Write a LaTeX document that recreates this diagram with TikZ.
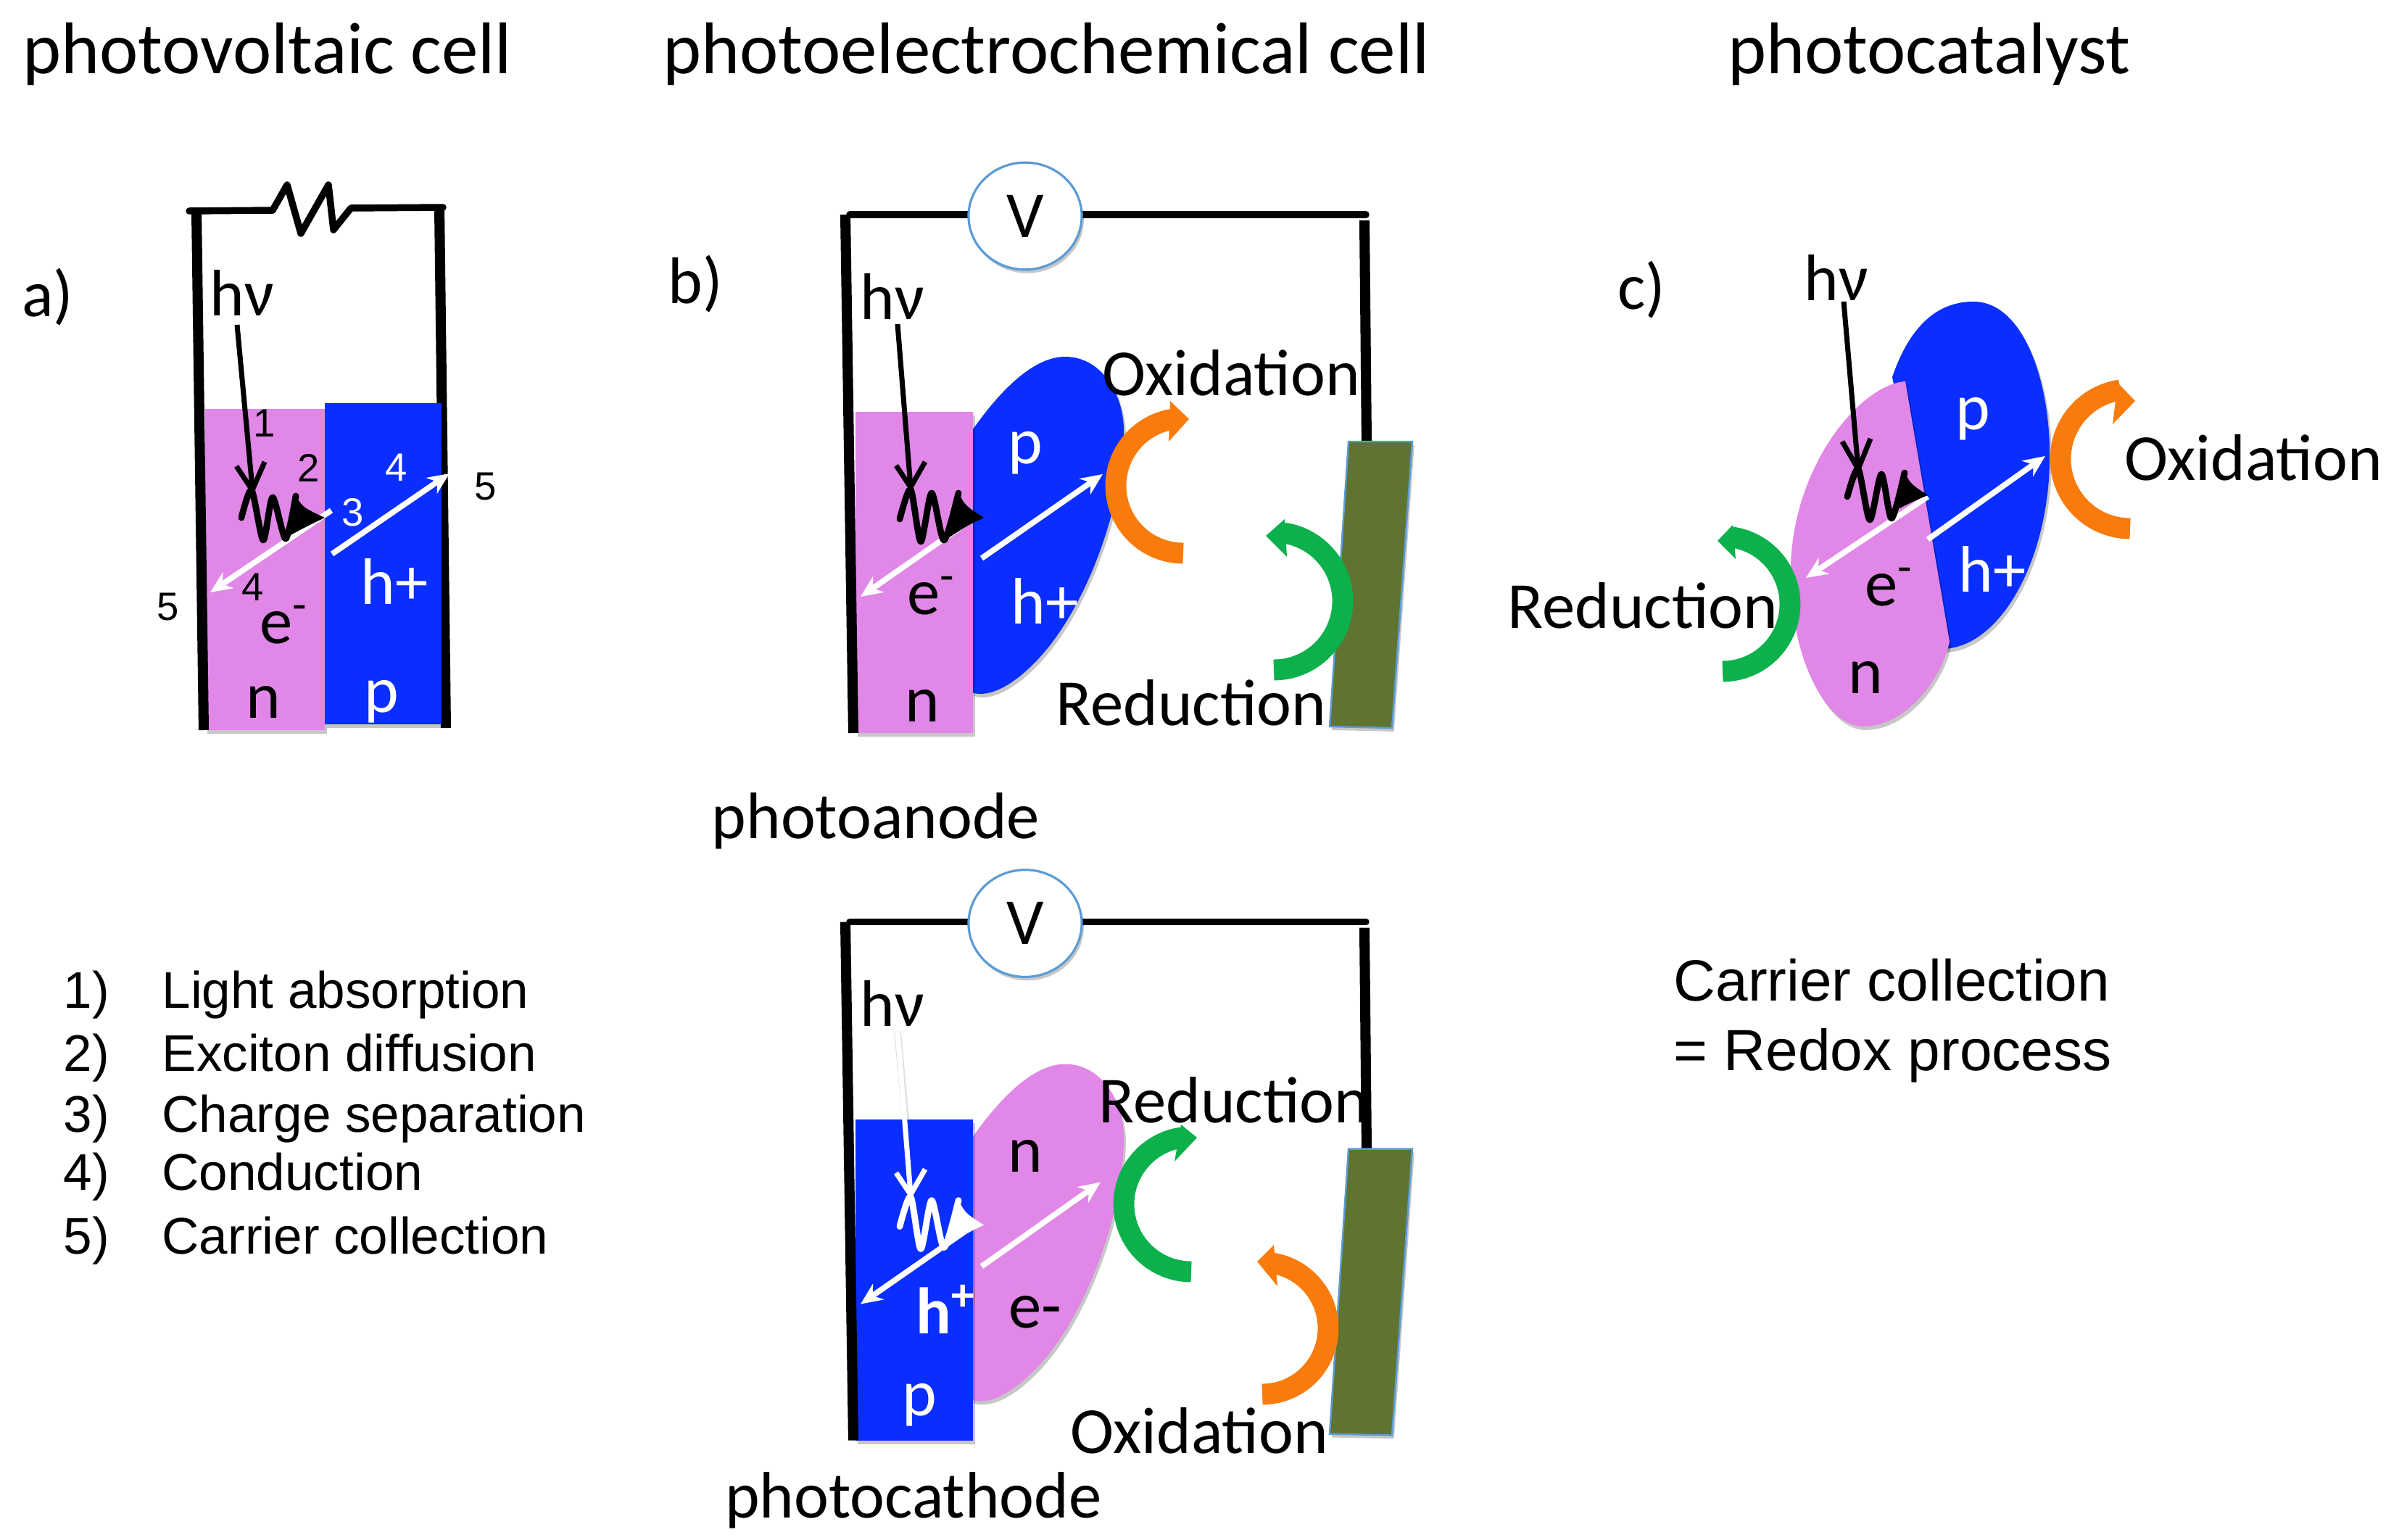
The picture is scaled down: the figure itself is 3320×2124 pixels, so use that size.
\documentclass[tikz,border=0pt]{standalone}
\usepackage{fontspec}
\setmainfont{Carlito}
\newfontfamily\arialf{Liberation Sans}
\usetikzlibrary{arrows.meta,shapes.geometric,shadows}
\definecolor{pinkc}{HTML}{E187E8}
\definecolor{bluec}{HTML}{0A2EFF}
\definecolor{orangec}{HTML}{F97B0B}
\definecolor{greenc}{HTML}{0DB14B}
\definecolor{olivec}{HTML}{5F7430}
\definecolor{edgec}{HTML}{5B9BD5}
\tikzset{
  soft/.style={drop shadow={shadow xshift=0.8pt,shadow yshift=-1.4pt,opacity=.22,fill=black}},
  lab/.style={inner sep=0pt,font=\fontsize{25.8}{30}\selectfont},
  wlab/.style={lab,text=white},
  num/.style={inner sep=0pt,font=\arialf\fontsize{15.5}{18}\selectfont},
  listf/.style={inner sep=0pt,anchor=base west,font=\arialf\fontsize{20.2}{24}\selectfont},
  bigf/.style={inner sep=0pt,anchor=base west,font=\arialf\fontsize{22.8}{27}\selectfont},
  title/.style={inner sep=0pt,anchor=base,font=\fontsize{28.7}{33}\selectfont},
  wirebar/.style={line width=4pt},
  wiretop/.style={line width=2.7pt,line join=round,line cap=round},
  beam/.style={line width=2pt},
  squig/.style={line width=2.5pt,line join=round,line cap=round},
  tipline/.style={line width=2.2pt,-{Stealth[length=8.5pt,width=7.5pt]}},
  curve/.style={line width=8.2pt},
  meter/.style={ellipse,soft,draw=edgec,line width=0.9pt,fill=white,inner sep=0pt,minimum width=44.4pt,minimum height=42pt,lab},
  plate/.style={soft,fill=olivec,draw=edgec,line width=0.7pt}
}
% excitation glyph of panel b, colour #1
\newcommand{\excite}[1]{%
  \draw[beam,#1] (1238,447) -- (1256,672);
  \draw[beam,#1,line join=miter] (1236,642) -- (1256,672) -- (1276,637);
  \draw[squig,#1] plot[smooth,tension=.45] coordinates {(1241,716) (1256,675) (1270,747) (1285,680) (1302,745) (1322,680)};
  \fill[#1] (1322,680) .. controls (1332,698) .. (1357,714) .. controls (1334,725) .. (1308,742) -- cycle;
}
% blob of panel b, colour #1
\newcommand{\blob}[1]{%
  \fill[#1,soft] (1340,595) .. controls (1385,530) and (1430,492) .. (1469,492)
    .. controls (1520,492) and (1552,545) .. (1550,600)
    .. controls (1548,700) and (1500,830) .. (1440,900)
    .. controls (1410,935) and (1370,965) .. (1340,955) -- cycle;
}
% plate of panel b
\newcommand{\plateb}{\draw[plate] (1860,609) -- (1948,609) -- (1920,1004) -- (1834,1002) -- cycle;}
% orange or green redox arc
\newcommand{\redox}[7]{% colour, cx, cy, r, start, end, head
  \draw[curve,#1] plot[domain=#5:#6,samples=40] ({#2+#4*cos(\x)},{#3+#4*sin(\x)});
  \fill[#1] #7 -- cycle;
}
\begin{document}
\begin{tikzpicture}[x=0.01cm,y=-0.01cm]
\useasboundingbox (0,0) rectangle (3320,2124);
% titles
\node[title] (t1) at (369,101) {photovoltaic cell};
\node[title] (t2) at (1443,101) {photoelectrochemical cell};
\node[title] (t3) at (2661,101) {photocatalyst};
\node[lab] (la) at (66,410) {a)};
\node[lab] (lb) at (959,392) {b)};
\node[lab] (lc) at (2264,400) {c)};

% ---------- panel a
\fill[pinkc,soft] (283,564) rectangle (448,1007);
\draw[wirebar] (271,291) -- (281,1007);
\draw[wirebar] (606,286) -- (615,1004);
\fill[bluec,soft] (448,556) rectangle (609,999);
\draw[wiretop] (261,291) -- (376,290) -- (396,255) -- (415,322) -- (453,255) -- (460,317) -- (484,287) -- (611,286);
\draw[tipline,white] (457,704) -- (290,817);
\draw[tipline,white] (458,764) -- (620,653);
\draw[beam] (327,448) -- (348,673);
\draw[beam,line join=miter] (326,643) -- (348,676) -- (365,637);
\draw[squig] plot[smooth,tension=.45] coordinates {(333,714) (347,676) (363,745) (376,686) (394,743) (408,684)};
\fill (408,684) .. controls (418,700) .. (448,714) .. controls (425,725) .. (397,740) -- cycle;
\node[lab] (ahv) at (334,404) {hν};
\node[num] (a1) at (365,584) {1};
\node[num] (a2) at (426,645) {2};
\node[num,text=white] (a3) at (487,707) {3};
\node[num,text=white] (a4w) at (547,645) {4};
\node[num] (a4b) at (349,810) {4};
\node[num] (a5r) at (670,671) {5};
\node[num] (a5l) at (232,837) {5};
\node[lab] (ae) at (392,862) {e\textsuperscript{-}};
\node[wlab] (ah) at (544,802) {h+};
\node[lab] (an) at (363,968) {n};
\node[wlab] (ap) at (526,968) {p};

% ---------- list
\foreach \n/\tx/\yy in {1/Light absorption/1390,2/Exciton diffusion/1477,3/Charge separation/1561,4/Conduction/1641,5/Carrier collection/1729}{
  \node[listf] (ln\n) at (87,\yy) {\n)};
  \node[listf] (lt\n) at (223,\yy) {\tx};
}

% ---------- panel b top
\draw[wirebar] (1882,304) -- (1885,612);
\draw[wiretop] (1172,296) -- (1884,296);
\node[meter] (v1) at (1414,298) {V};
\blob{bluec}
\fill[pinkc,soft] (1180,568) rectangle (1342,1011);
\draw[wirebar] (1166,296) -- (1177,1011);
\plateb
\redox{orangec}{1632}{670}{93}{90}{263}{(1614,553) -- (1640,578) -- (1612,609)}
\redox{greenc}{1757}{829}{95}{90}{-82}{(1772,716) -- (1746,739) -- (1775,768)}
\draw[tipline,white] (1348,711) -- (1187,823);
\draw[tipline,white] (1354,770) -- (1521,654);
\excite{black}
\node[lab] (bhv) at (1231,409) {hν};
\node[wlab] (bp) at (1414,625) {p};
\node[wlab] (bh) at (1441,829) {h+};
\node[lab] (be) at (1285,822) {e\textsuperscript{-}};
\node[lab] (bn) at (1272,973) {n};
\node[lab] (box) at (1698,514) {Oxidation};
\node[lab] (bre) at (1643,969) {Reduction};
\node[lab] (bpa) at (1208,1132) {photoanode};

% ---------- panel b bottom
\begin{scope}[yshift=-9.75cm]
\draw[wirebar] (1882,304) -- (1885,612);
\draw[wiretop] (1172,296) -- (1884,296);
\node[meter] (v2) at (1414,298) {V};
\blob{pinkc}
\fill[bluec,soft] (1180,568) rectangle (1342,1011);
\draw[wirebar] (1166,296) -- (1177,1011);
\plateb
\draw[line width=2.8pt,black!12] (1238,447) -- (1249,568);
\draw[tipline,white] (1348,711) -- (1187,823);
\draw[tipline,white] (1354,771) -- (1518,655);
\excite{white}
\end{scope}
\redox{greenc}{1643}{1661}{93}{90}{262}{(1629,1551) -- (1651,1569) -- (1620,1602)}
\redox{orangec}{1741}{1832}{91}{90}{-82}{(1757,1717) -- (1734,1740) -- (1762,1774)}
\node[lab] (chv) at (1231,1384) {hν};
\node[lab] (cn) at (1414,1594) {n};
\node[lab] (ce) at (1428,1810) {e-};
\node[wlab,font=\bfseries\fontsize{25.8}{30}\selectfont] (ch) at (1305,1806) {h\textsuperscript{+}};
\node[wlab] (cp) at (1268,1938) {p};
\node[lab] (cre) at (1702,1517) {Reduction};
\node[lab] (cox) at (1654,1973) {Oxidation};
\node[lab] (cpc) at (1260,2069) {photocathode};

% ---------- panel c
\fill[bluec,soft] (2610,520) .. controls (2634,450) and (2672,416) .. (2722,416)
  .. controls (2792,416) and (2830,530) .. (2827,640)
  .. controls (2824,770) and (2762,890) .. (2682,895) -- cycle;
\fill[pinkc,soft] (2628,526) .. controls (2567,530) and (2474,640) .. (2470,780)
  .. controls (2466,900) and (2517,1002) .. (2570,1002)
  .. controls (2627,1002) and (2677,940) .. (2689,885) -- cycle;
\redox{orangec}{2938}{633}{96}{90}{262}{(2921,528) -- (2945,553) -- (2914,585)}
\redox{greenc}{2376}{833}{93}{90}{-84}{(2390,724) -- (2369,746) -- (2394,771)}
\draw[tipline,white] (2659,685) -- (2491,797);
\draw[tipline,white] (2659,744) -- (2821,629);
\draw[beam] (2543,416) -- (2563,647);
\draw[beam,line join=miter] (2541,609) -- (2563,647) -- (2580,605);
\draw[squig] plot[smooth,tension=.45] coordinates {(2548,685) (2563,647) (2579,717) (2595,654) (2609,715) (2627,652)};
\fill (2627,652) .. controls (2636,668) .. (2659,683) .. controls (2638,692) .. (2616,703) -- cycle;
\node[lab] (dhv) at (2533,383) {hν};
\node[wlab] (dp) at (2721,578) {p};
\node[wlab] (dh) at (2748,785) {h+};
\node[lab] (de) at (2606,810) {e\textsuperscript{-}};
\node[lab] (dn) at (2573,934) {n};
\node[lab] (dox) at (3108,631) {Oxidation};
\node[lab] (dre) at (2266,835) {Reduction};

% ---------- statement
\node[bigf] (s1) at (2308,1380) {Carrier collection};
\node[bigf] (s2) at (2308,1476) {= Redox process};
\end{tikzpicture}
\end{document}
